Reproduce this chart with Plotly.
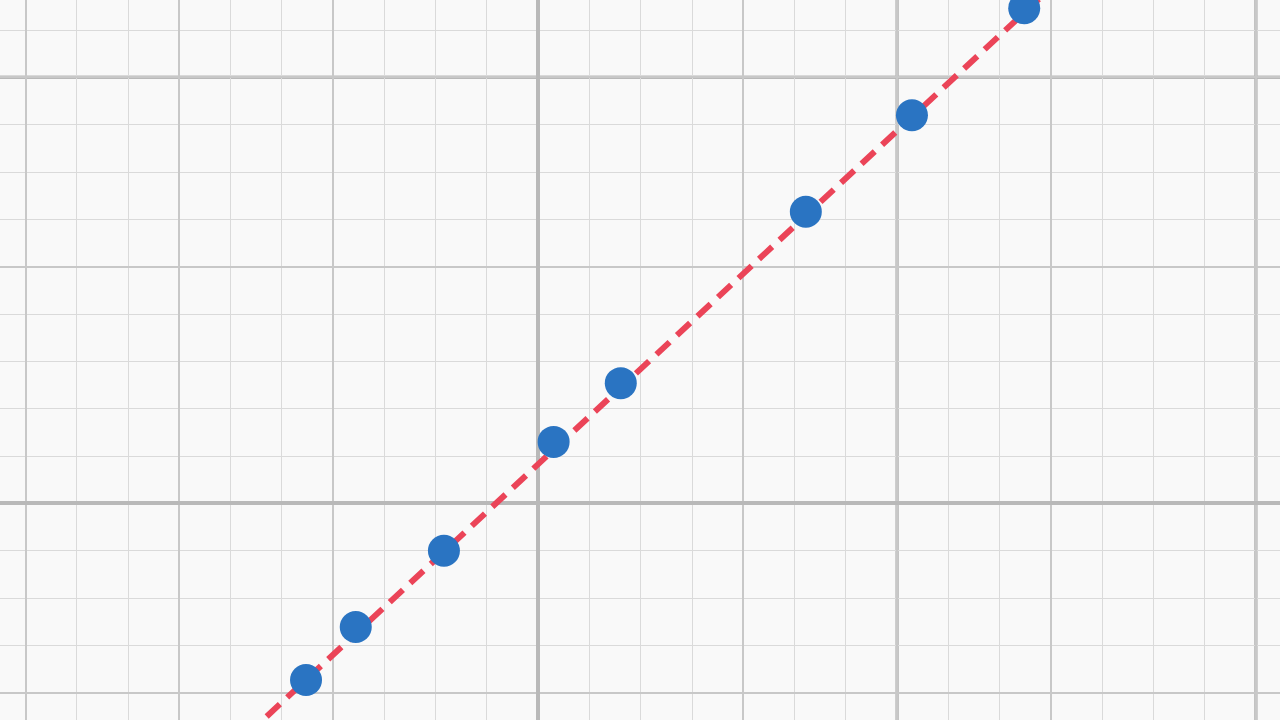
import plotly.graph_objects as go

# Scatter points (one grid square = 1 unit)
point_x = [-4.53, -3.56, -1.84, 0.30, 1.61, 5.22, 7.29, 9.48]
point_y = [-3.73, -2.61, -1.00, 1.30, 2.54, 6.16, 8.20, 10.46]

# Fitted line drawn across the whole view
fit_slope = 1.006
fit_intercept = 0.83

# Visible window of the graph paper
x_range = [-10.50, 14.47]
y_range = [-4.575, 10.634]

# Darker grid lines
x_major = [-10, -7, -4, 0, 4, 7, 10, 14]
y_major = [-4, 0, 5, 9]
x_heavy = [7, 14]
y_heavy = [9]

line_x = x_range
line_y = [fit_slope * x + fit_intercept for x in line_x]

fig = go.Figure()

fig.add_trace(go.Scatter(x = line_x,
                         y = line_y,
                         mode = "lines",
                         line = dict(color = "#eb4458", width = 6, dash = "18px,10px"),
                         hoverinfo = "skip",
                         showlegend = False))

fig.add_trace(go.Scatter(x = point_x,
                         y = point_y,
                         mode = "markers",
                         marker = dict(color = "#2a74c2", size = 32),
                         showlegend = False))

# heavier lines go underneath the normal grid
for xv in x_heavy:
    fig.add_shape(type = "line", layer = "below", xref = "x", yref = "paper",
                  x0 = xv, x1 = xv, y0 = 0, y1 = 1,
                  line = dict(color = "#b9b9b9", width = 3.5))
for yv in y_heavy:
    fig.add_shape(type = "line", layer = "below", xref = "paper", yref = "y",
                  x0 = 0, x1 = 1, y0 = yv, y1 = yv,
                  line = dict(color = "#b9b9b9", width = 3.5))

axis_style = dict(showticklabels = False,
                  ticks = "",
                  showline = False,
                  showgrid = True,
                  gridcolor = "#c8c8c8",
                  gridwidth = 2,
                  zeroline = True,
                  zerolinecolor = "#b9b9b9",
                  zerolinewidth = 3.5,
                  minor = dict(showgrid = True, tick0 = 0, dtick = 1,
                               gridcolor = "#dadada", gridwidth = 1.3))

fig.update_xaxes(range = x_range, tickmode = "array", tickvals = x_major, **axis_style)
fig.update_yaxes(range = y_range, tickmode = "array", tickvals = y_major, **axis_style)

fig.update_layout(width = 1280,
                  height = 720,
                  margin = dict(l = 0, r = 0, t = 0, b = 0),
                  paper_bgcolor = "#f9f9f9",
                  plot_bgcolor = "#f9f9f9",
                  hovermode = "closest")

# the page body has a default margin; drop it so the graph fills the window
fig.write_html("out.html",
               config = {"displayModeBar": False},
               post_script = "document.body.style.margin = '0'; document.body.style.overflow = 'hidden';")
